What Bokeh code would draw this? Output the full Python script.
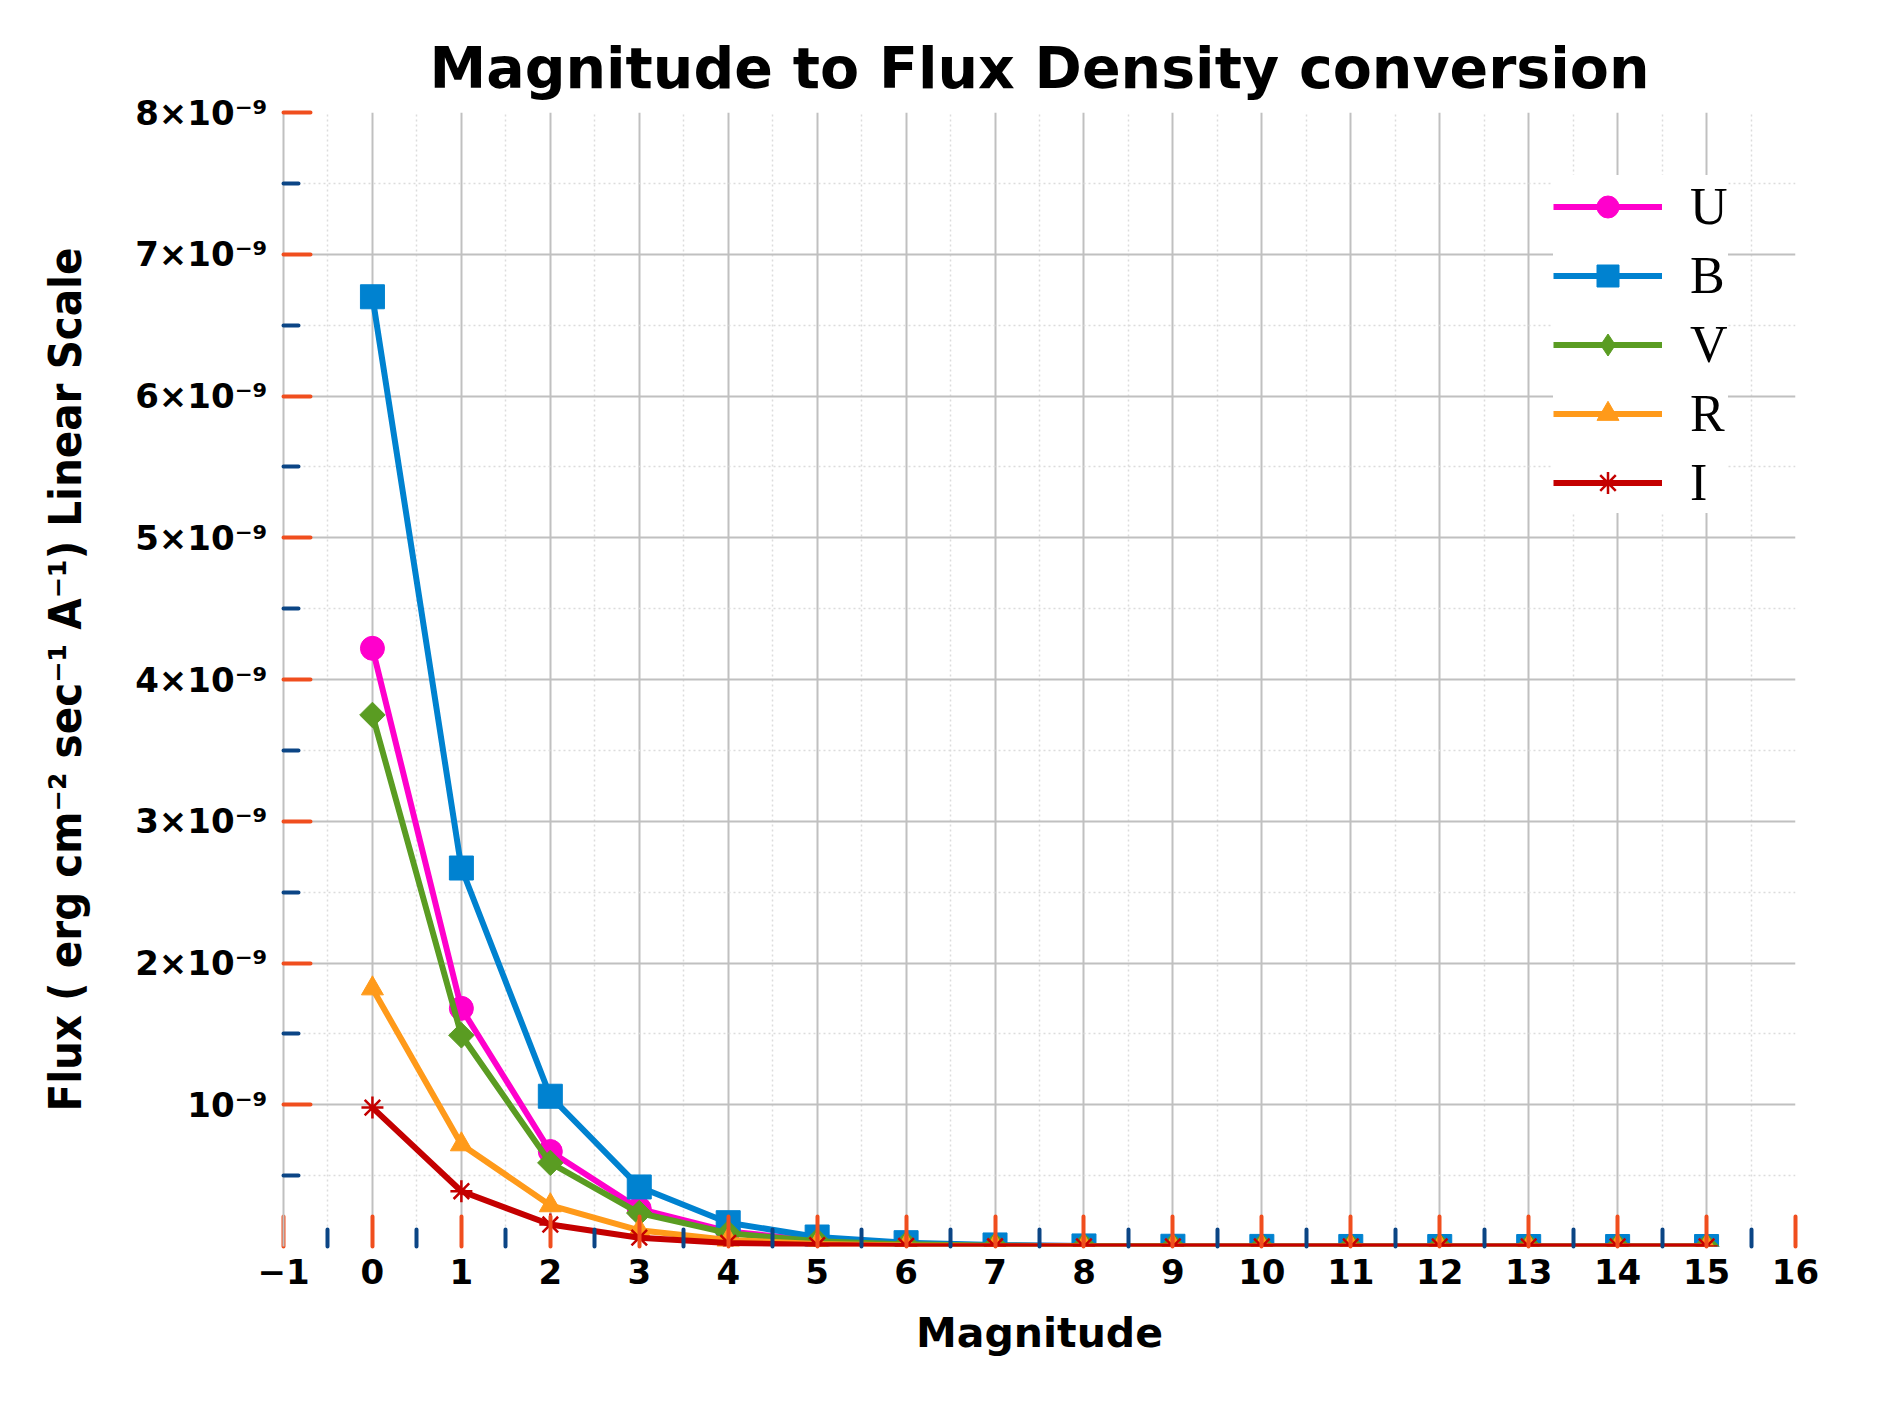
import math
from bokeh.plotting import figure
from bokeh.models import Range1d, FixedTicker, CustomJSTickFormatter
from bokeh.embed import file_html
from bokeh.resources import INLINE

# ---- data (flux in erg cm^-2 s^-1 A^-1) ----
magnitude = list(range(0, 16))
flux_U = [4.22e-9, 1.68e-9, 0.67e-9, 0.266e-9, 0.106e-9, 0.042e-9, 0.017e-9, 0.0067e-9,
          0.0027e-9, 0.0011e-9, 0.0004e-9, 0.0002e-9, 0.0001e-9, 0.0, 0.0, 0.0]
flux_B = [6.70e-9, 2.67e-9, 1.06e-9, 0.42e-9, 0.168e-9, 0.067e-9, 0.027e-9, 0.011e-9,
          0.004e-9, 0.0017e-9, 0.0007e-9, 0.0003e-9, 0.0001e-9, 0.0, 0.0, 0.0]
flux_V = [3.75e-9, 1.49e-9, 0.59e-9, 0.236e-9, 0.094e-9, 0.037e-9, 0.015e-9, 0.006e-9,
          0.0024e-9, 0.001e-9, 0.0004e-9, 0.0002e-9, 0.0001e-9, 0.0, 0.0, 0.0]
flux_R = [1.82e-9, 0.72e-9, 0.29e-9, 0.114e-9, 0.046e-9, 0.018e-9, 0.007e-9, 0.003e-9,
          0.0011e-9, 0.0005e-9, 0.0002e-9, 0.0001e-9, 0.0, 0.0, 0.0, 0.0]
flux_I = [0.98e-9, 0.39e-9, 0.155e-9, 0.062e-9, 0.025e-9, 0.0098e-9, 0.004e-9, 0.0016e-9,
          0.0006e-9, 0.0002e-9, 0.0001e-9, 0.0, 0.0, 0.0, 0.0, 0.0]

x_major_ticks = list(range(-1, 17))
x_minor_ticks = [i + 0.5 for i in range(-1, 16)]
y_major_ticks = [i * 1e-9 for i in range(1, 9)]
y_minor_ticks = [(i + 0.5) * 1e-9 for i in range(0, 8)]

series = [
    ("U", flux_U, "#ff00cc", "circle", 24, 0.0),
    ("B", flux_B, "#0082d0", "square", 24, 0.0),
    ("V", flux_V, "#5a9c22", "square", 18, math.pi / 4),
    ("R", flux_R, "#ff9a1a", "triangle", 22, 0.0),
    ("I", flux_I, "#c40000", "asterisk", 22, 0.0),
]

p = figure(width=1889, height=1417, output_backend="svg", toolbar_location=None,
           x_range=Range1d(-1, 16), y_range=Range1d(0, 8e-9),
           min_border_left=283, min_border_right=94, min_border_top=112, min_border_bottom=171)
p.background_fill_color = "white"
p.border_fill_color = "white"
p.outline_line_color = None

# title
p.title.text = "Magnitude to Flux Density conversion"
p.title.align = "center"
p.title.text_font = "DejaVu Sans"
p.title.text_font_style = "bold"
p.title.text_font_size = "57px"
p.title.text_color = "black"
p.title.standoff = 24

# lines + markers
for name, ys, color, marker, size, ang in series:
    p.line(magnitude, ys, line_color=color, line_width=6, legend_label=name)
    if marker == "asterisk":
        p.scatter(magnitude, ys, marker=marker, size=size, line_color=color, line_width=2.5,
                  legend_label=name)
    elif ang != 0.0:
        # diamond (for the legend) hidden beneath a wider rotated square
        p.scatter(magnitude, ys, marker="diamond", size=22, fill_color=color,
                  line_color=color, line_width=1, legend_label=name)
        p.scatter(magnitude, ys, marker=marker, size=size, angle=ang, fill_color=color,
                  line_color=color, line_width=1)
    else:
        p.scatter(magnitude, ys, marker=marker, size=size, fill_color=color,
                  line_color=color, line_width=1, legend_label=name)

# axes
xa = p.xaxis[0]
ya = p.yaxis[0]
xa.ticker = FixedTicker(ticks=x_major_ticks, minor_ticks=x_minor_ticks)
ya.ticker = FixedTicker(ticks=y_major_ticks, minor_ticks=y_minor_ticks)
ya.formatter = CustomJSTickFormatter(code="""
const n = Math.round(tick * 1e9);
if (n == 0) { return ""; }
if (n == 1) { return "10\u207b\u2079"; }
return n + "\u00d710\u207b\u2079";
""")
xa.formatter = CustomJSTickFormatter(code="""
const n = Math.round(tick);
return n < 0 ? "\u2212" + Math.abs(n) : "" + n;
""")

for ax in (xa, ya):
    ax.major_tick_out = 0
    ax.minor_tick_out = 0
    ax.major_tick_line_color = "#f04e1e"
    ax.minor_tick_line_color = "#0b4585"
    ax.major_tick_line_width = 4
    ax.minor_tick_line_width = 4
    ax.major_tick_line_cap = "round"
    ax.minor_tick_line_cap = "round"
    ax.major_label_text_font = "DejaVu Sans"
    ax.major_label_text_font_style = "bold"
    ax.major_label_text_font_size = "34px"
    ax.major_label_text_color = "black"
    ax.axis_label_text_color = "black"
    ax.axis_label_text_font_style = "bold"

xa.axis_line_color = None
ya.axis_line_color = "#c0c0c0"
ya.axis_line_width = 2
xa.major_tick_in = 30
xa.minor_tick_in = 17
ya.major_tick_in = 27
ya.minor_tick_in = 15
xa.major_label_standoff = 12
ya.major_label_standoff = 16

xa.axis_label = "Magnitude"
xa.axis_label_text_font = "DejaVu Sans"
xa.axis_label_text_font_size = "41px"
xa.axis_label_standoff = 22

ya.axis_label = "Flux ( erg cm\u207b\u00b2 sec\u207b\u00b9 A\u207b\u00b9) Linear Scale"
ya.axis_label_text_font = "'Liberation Sans Narrow', 'DejaVu Sans Condensed', sans-serif"
ya.axis_label_text_font_size = "45px"
ya.axis_label_standoff = 40

# grids
for g in (p.xgrid[0], p.ygrid[0]):
    g.grid_line_color = "#c0c0c0"
    g.grid_line_width = 2
    g.minor_grid_line_color = "#dcdcdc"
    g.minor_grid_line_width = 1.5
    g.minor_grid_line_dash = "2 3"
p.xgrid[0].ticker = FixedTicker(ticks=x_major_ticks, minor_ticks=x_minor_ticks)
p.ygrid[0].ticker = FixedTicker(ticks=y_major_ticks, minor_ticks=y_minor_ticks)

# legend
lg = p.legend[0]
lg.location = (1270, 733)
lg.padding = 25
lg.border_line_color = None
lg.background_fill_color = "white"
lg.background_fill_alpha = 1.0
lg.label_text_font = "Liberation Serif"
lg.label_text_font_size = "52px"
lg.label_text_color = "black"
lg.glyph_width = 109
lg.glyph_height = 55
lg.label_height = 62
lg.label_standoff = 28
lg.spacing = 7

open("out.html", "w").write(file_html(p, INLINE))
